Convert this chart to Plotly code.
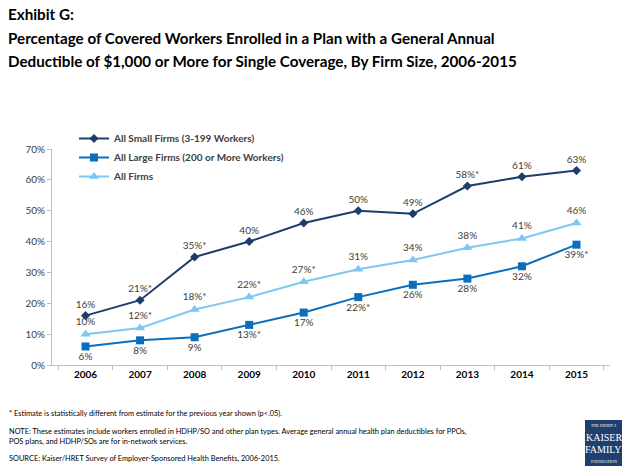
import plotly.graph_objects as go

years = ["2006", "2007", "2008", "2009", "2010", "2011", "2012", "2013", "2014", "2015"]

small_firms = [16, 21, 35, 40, 46, 50, 49, 58, 61, 63]
large_firms = [6, 8, 9, 13, 17, 22, 26, 28, 32, 39]
all_firms = [10, 12, 18, 22, 27, 31, 34, 38, 41, 46]

# 1 = statistically different from previous year (gets an asterisk)
small_sig = [0, 1, 1, 0, 0, 0, 0, 1, 0, 0]
large_sig = [0, 0, 0, 1, 0, 1, 0, 0, 0, 1]
all_sig = [0, 1, 1, 1, 1, 0, 0, 0, 0, 0]

FONT = "Lato, 'Open Sans', sans-serif"
TXT = "#404040"


def labels(vals, sig):
    return [f"{v}%" + ("*" if s else "") for v, s in zip(vals, sig)]


# plot area in pixels: x 52..610, y 149..365
L, R, T, B = 52, 610, 149, 365


def px(x):
    return (x - L) / (R - L)


def py(y):
    return (B - y) / (B - T)


fig = go.Figure()

fig.add_trace(go.Scatter(
    x=years, y=small_firms, name="All Small Firms (3-199 Workers)",
    mode="lines+markers+text", text=labels(small_firms, small_sig),
    textposition="top center", textfont=dict(size=10, color=TXT, family=FONT),
    line=dict(color="#1F3D6B", width=2),
    marker=dict(symbol="diamond", size=7, color="#1F3D6B"),
))
fig.add_trace(go.Scatter(
    x=years, y=large_firms, name="All Large Firms (200 or More Workers)",
    mode="lines+markers+text", text=labels(large_firms, large_sig),
    textposition="bottom center", textfont=dict(size=10, color=TXT, family=FONT),
    line=dict(color="#0A6EBD", width=2),
    marker=dict(symbol="square", size=8, color="#0A6EBD"),
))
fig.add_trace(go.Scatter(
    x=years, y=all_firms, name="All Firms",
    mode="lines+markers+text", text=labels(all_firms, all_sig),
    textposition="top center", textfont=dict(size=10, color=TXT, family=FONT),
    line=dict(color="#7CC8F0", width=2),
    marker=dict(symbol="triangle-up", size=9, color="#7CC8F0"),
))

fig.update_layout(
    width=630, height=472,
    margin=dict(l=L, r=630 - R, t=T, b=472 - B, pad=0),
    paper_bgcolor="white", plot_bgcolor="white",
    font=dict(family=FONT, color=TXT, size=10),
    showlegend=True,
    legend=dict(x=px(74), y=py(124), xanchor="left", yanchor="top",
                font=dict(size=10, color=TXT, family=FONT, weight="bold"),
                bgcolor="rgba(0,0,0,0)", tracegroupgap=0),
)

fig.update_xaxes(
    type="category", showgrid=False, showline=True, linecolor="#BFBFBF",
    ticks="outside", tickson="boundaries", ticklen=4, tickcolor="#BFBFBF",
    tickfont=dict(size=10, color="#000000", family=FONT, weight="bold"),
)
fig.update_yaxes(
    range=[0, 70], dtick=10, ticksuffix="%", showgrid=False, zeroline=False,
    showline=True, linecolor="#BFBFBF", ticks="outside", ticklen=4,
    tickcolor="#BFBFBF", tickfont=dict(size=10, color=TXT, family=FONT),
)

# title, one annotation per line
title_lines = [
    (14, "Exhibit G:"),
    (38, "Percentage of Covered Workers Enrolled in a Plan with a General Annual"),
    (61, "Deductible of $1,000 or More for Single Coverage, By Firm Size, 2006-2015"),
]
for ypos, t in title_lines:
    fig.add_annotation(
        x=px(6), y=py(ypos), xref="paper", yref="paper", xanchor="left", yanchor="middle",
        align="left", showarrow=False, text=f"<b>{t}</b>",
        font=dict(size=15.2, color="#000000", family=FONT),
    )

# footnotes
notes = [
    (413, "* Estimate is statistically different from estimate for the previous year shown (p<.05)."),
    (436, "NOTE: These estimates include workers enrolled in HDHP/SO and other plan types. Average general annual health plan deductibles for PPOs,"
          "<br>POS plans, and HDHP/SOs are for in-network services."),
    (458, "SOURCE: Kaiser/HRET Survey of Employer-Sponsored Health Benefits, 2006-2015."),
]
for ypos, t in notes:
    fig.add_annotation(
        x=px(7), y=py(ypos), xref="paper", yref="paper", xanchor="left", yanchor="middle",
        align="left", showarrow=False, text=t,
        font=dict(size=7.4, color="#000000", family=FONT),
    )

# logo
fig.add_shape(type="rect", xref="paper", yref="paper",
              x0=px(585), x1=px(622), y0=py(420), y1=py(466),
              fillcolor="#1F3F6F", line=dict(width=0), layer="above")
for ypos, t, s in [(425, "THE HENRY J.", 4), (437, "KAISER", 10), (449, "FAMILY", 10), (461, "FOUNDATION", 4)]:
    fig.add_annotation(
        x=px(603.5), y=py(ypos), xref="paper", yref="paper", xanchor="center", yanchor="middle",
        showarrow=False, text=t,
        font=dict(size=s, color="white", family="'Liberation Serif', serif"),
    )

fig.write_html("out.html", config={"displayModeBar": False},
               post_script="document.body.style.margin='0px';")
